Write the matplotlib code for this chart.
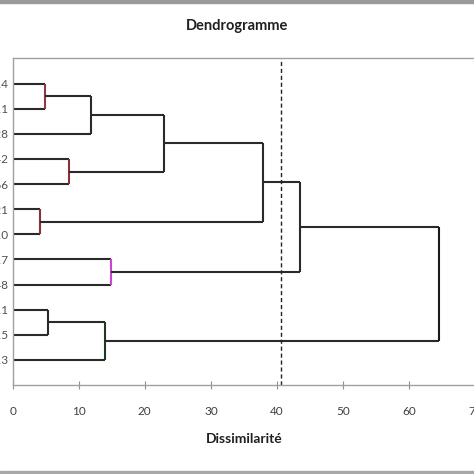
import matplotlib
matplotlib.use('Agg')
import matplotlib.pyplot as plt
from matplotlib.patches import Rectangle

plt.rcParams['font.family'] = ['Lato', 'DejaVu Sans']

# leaf labels, top to bottom (the image cuts them off on the left)
leaves = ['S14', 'S11', 'S28', 'S42', 'S66', 'S21', 'S10', 'S17', 'S48', 'S11', 'S15', 'S13']

# merges: (left child, right child, dissimilarity), scipy-style ids (leaves 0..11)
merges = [
    (0, 1, 4.9),
    (12, 2, 11.85),
    (3, 4, 8.5),
    (13, 14, 22.9),
    (5, 6, 4.1),
    (15, 16, 37.9),
    (7, 8, 14.9),
    (17, 18, 43.5),
    (9, 10, 5.35),
    (20, 11, 14.0),
    (19, 21, 64.5),
]
# colour of the vertical joint for each merge
joint_colors = ['#8b3a4a', '#2a2a2a', '#8b2f3a', '#2a2a2a', '#8b2f3a', '#2a2a2a',
                '#cc44cc', '#2a2a2a', '#2a2a2a', '#1f3a1f', '#1a1a1a']

cut_level = 40.6
xticks = [0, 10, 20, 30, 40, 50, 60, 70]

fig = plt.figure(figsize=(4.74, 4.74), dpi=100)
ax = fig.add_axes([0.0268, 0.1878, 0.9754, 0.6888])

# node positions
ypos = {i: i + 1 for i in range(len(leaves))}
xpos = {i: 0.0 for i in range(len(leaves))}
line_col = '#2a2a2a'
for k, (a, b, h) in enumerate(merges):
    nid = len(leaves) + k
    ax.plot([xpos[a], h], [ypos[a], ypos[a]], color=line_col, lw=1.5, solid_capstyle='butt')
    ax.plot([xpos[b], h], [ypos[b], ypos[b]], color=line_col, lw=1.5, solid_capstyle='butt')
    ax.plot([h, h], [ypos[a], ypos[b]], color=joint_colors[k], lw=1.5, solid_capstyle='butt')
    ypos[nid] = (ypos[a] + ypos[b]) / 2
    xpos[nid] = h

ax.axvline(cut_level, color='#222222', lw=1.0, ls=(0, (3, 2)))

ax.set_xlim(0, 70)
ax.set_ylim(13, 0)
ax.set_xticks(xticks)
ax.set_xticklabels([str(t) for t in xticks], fontsize=8.5, color='#404040')
ax.set_yticks(range(1, len(leaves) + 1))
ax.set_yticklabels(leaves, fontsize=8.5, color='#505050')
ax.tick_params(axis='y', length=0, pad=3)
ax.tick_params(axis='x', direction='inout', length=6, color='#909090', pad=12)
for s in ['left', 'top', 'bottom', 'right']:
    ax.spines[s].set_color('#a0a0a0')
    ax.spines[s].set_linewidth(1.0)

ax.set_xlabel('Dissimilarité', fontsize=10, fontweight='bold', color='#202020', labelpad=12)
fig.text(0.5, 1 - 26 / 474, 'Dendrogramme', ha='center', va='center',
         fontsize=10.5, fontweight='bold', color='#202020')

# screenshot border bands
fig.patches.append(Rectangle((0, 1 - 2.5 / 474), 1, 2.5 / 474, transform=fig.transFigure,
                             color='#9a9a9a', zorder=0))
fig.patches.append(Rectangle((0, 0), 1, 3.5 / 474, transform=fig.transFigure,
                             color='#a8a8a8', zorder=0))

fig.savefig('out.png', dpi=100)
